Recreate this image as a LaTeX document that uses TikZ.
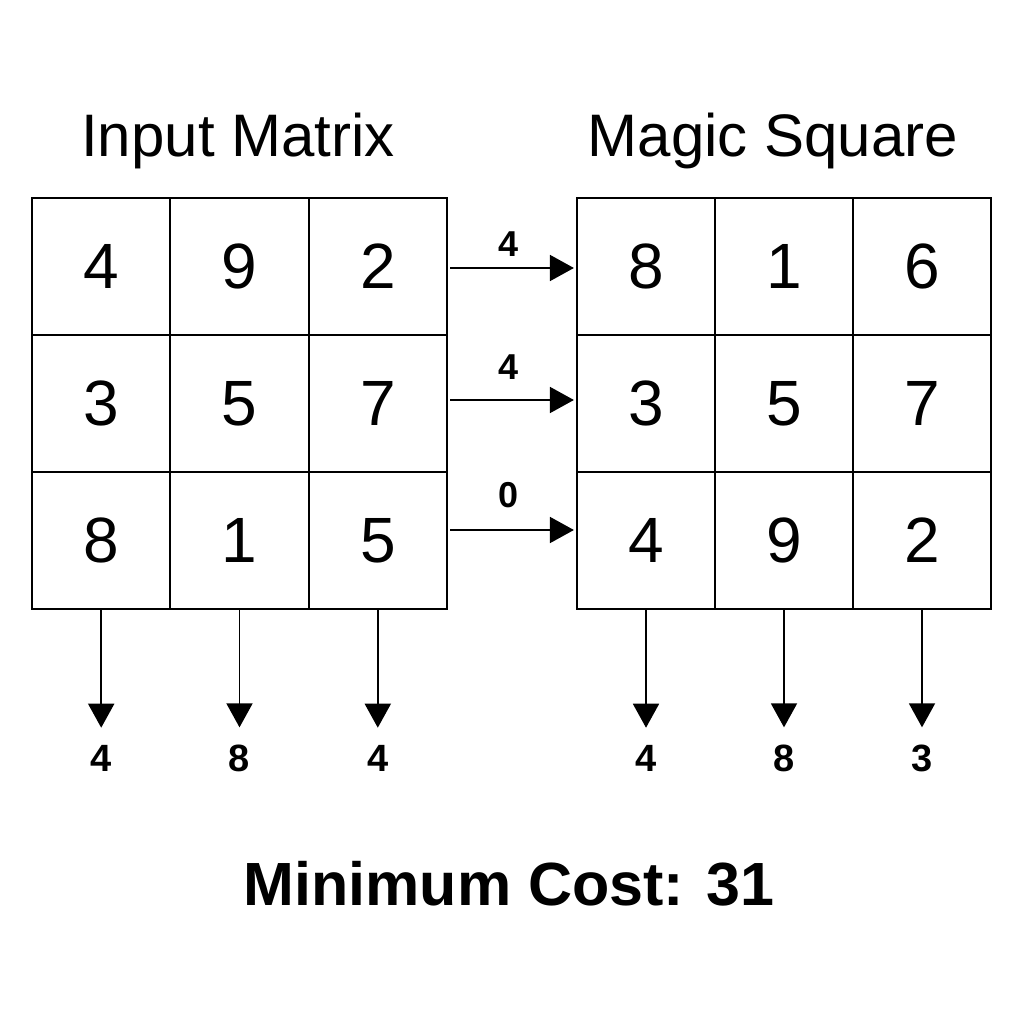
\documentclass[tikz,border=0pt]{standalone}
\usepackage{fontspec}
\setmainfont{Liberation Sans}
\usetikzlibrary{arrows.meta,calc}
\begin{document}
\begin{tikzpicture}[x=1pt,y=-1pt,
  cell/.style={draw,line width=2.2pt,minimum width=138.3pt,minimum height=137pt,inner sep=0pt,font=\fontsize{64}{64}\selectfont},
  rcell/.style={cell,minimum width=138pt},
  arr/.style={line width=1.8pt,-{Triangle[width=26pt,length=24pt]}},
  title/.style={font=\fontsize{60}{60}\selectfont,anchor=base,inner sep=0pt},
  hlab/.style={font=\fontsize{36}{36}\selectfont\bfseries,inner sep=0pt},
  vlab/.style={font=\fontsize{38}{38}\selectfont\bfseries,inner sep=0pt}]
\useasboundingbox[fill=white] (0,0) rectangle (1024,1024);
% titles
\node[title] (t1) at (238,157) {Input Matrix};
\node[title] (t2) at (773,157) {Magic Square};
% left grid
\node[cell] (a11) at (101.2,266.5) {4};
\node[cell] (a12) at (239.5,266.5) {9};
\node[cell] (a13) at (377.8,266.5) {2};
\node[cell] (a21) at (101.2,403.5) {3};
\node[cell] (a22) at (239.5,403.5) {5};
\node[cell] (a23) at (377.8,403.5) {7};
\node[cell] (a31) at (101.2,540.5) {8};
\node[cell] (a32) at (239.5,540.5) {1};
\node[cell] (a33) at (377.8,540.5) {5};
% right grid
\node[rcell] (b11) at (646,266.5) {8};
\node[rcell] (b12) at (784,266.5) {1};
\node[rcell] (b13) at (922,266.5) {6};
\node[rcell] (b21) at (646,403.5) {3};
\node[rcell] (b22) at (784,403.5) {5};
\node[rcell] (b23) at (922,403.5) {7};
\node[rcell] (b31) at (646,540.5) {4};
\node[rcell] (b32) at (784,540.5) {9};
\node[rcell] (b33) at (922,540.5) {2};
% horizontal arrows
\coordinate (h1s) at ($(a13.east)+(2,1.5)$);
\coordinate (h1e) at ($(b11.west)+(-2,1.5)$);
\coordinate (h2s) at ($(a23.east)+(2,-3.5)$);
\coordinate (h2e) at ($(b21.west)+(-2,-3.5)$);
\coordinate (h3s) at ($(a33.east)+(2,-10.5)$);
\coordinate (h3e) at ($(b31.west)+(-2,-10.5)$);
\draw[arr] (h1s) -- (h1e);
\draw[arr] (h2s) -- (h2e);
\draw[arr] (h3s) -- (h3e);
\node[hlab] (l1) at (509,244) {4};
\node[hlab] (l2) at (509,367) {4};
\node[hlab] (l3) at (509,495) {0};
% vertical arrows and labels
\node[vlab] (v1) at (101.2,758) {4};
\node[vlab] (v2) at (239.5,758) {8};
\node[vlab] (v3) at (377.8,758) {4};
\node[vlab] (v4) at (646,758) {4};
\node[vlab] (v5) at (784,758) {8};
\node[vlab] (v6) at (922,758) {3};
\draw[arr,shorten >=17pt] (a31.south) -- (v1.north);
\draw[arr,shorten >=17pt] (a32.south) -- (v2.north);
\draw[arr,shorten >=17pt] (a33.south) -- (v3.north);
\draw[arr,shorten >=17pt] (b31.south) -- (v4.north);
\draw[arr,shorten >=17pt] (b32.south) -- (v5.north);
\draw[arr,shorten >=17pt] (b33.south) -- (v6.north);
% result
\node[font=\fontsize{61}{61}\selectfont\bfseries,anchor=base,inner sep=0pt] (res) at (509,905) {Minimum Cost: 31};
\end{tikzpicture}
\end{document}
